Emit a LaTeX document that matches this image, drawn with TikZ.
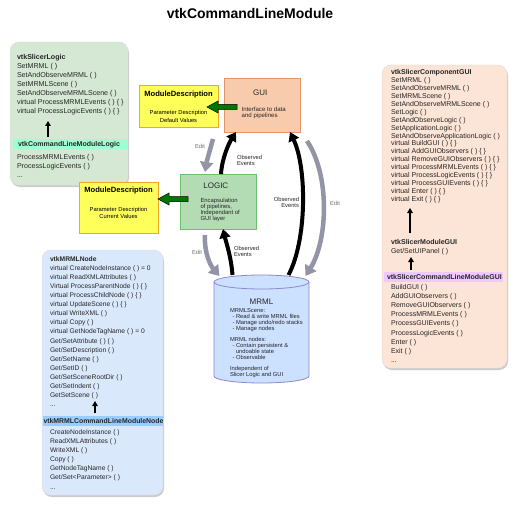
\documentclass[tikz,border=0pt]{standalone}
\usepackage{fontspec}
\setmainfont{Liberation Sans}
\usetikzlibrary{arrows.meta,shadows}
\newcommand\myfs[2]{\fontsize{#1}{#2}\selectfont}
\definecolor{greenbox}{HTML}{D5E8D4}
\definecolor{cyanband}{HTML}{A0FFD2}
\definecolor{bluebox}{HTML}{DAE8FC}
\definecolor{blueband}{HTML}{99CCFF}
\definecolor{pinkbox}{HTML}{FCE4D6}
\definecolor{pinkband}{HTML}{EEC8FF}
\definecolor{guifill}{HTML}{F8CBAD}
\definecolor{guiborder}{HTML}{E0956A}
\definecolor{logicfill}{HTML}{B4DCB4}
\definecolor{logicborder}{HTML}{6CBF6C}
\definecolor{mdfill}{HTML}{FFFF5A}
\definecolor{mdborder}{HTML}{F0A828}
\definecolor{mrmlfill}{HTML}{CCE0FF}
\definecolor{mrmlborder}{HTML}{9088CC}
\definecolor{editgray}{HTML}{9494A8}
\definecolor{garrowfill}{HTML}{007800}
\begin{document}
\begin{tikzpicture}[x=1pt,y=-1pt,
  every node/.style={inner sep=0pt,outer sep=0pt},
  listbox/.style={draw=black!12, rounded corners=9pt,
    drop shadow={shadow xshift=1pt,shadow yshift=-2pt,opacity=0.4}},
  ln/.style={anchor=base west, text=black!85},
  inh/.style={line width=1.3pt, -{Triangle[length=5pt,width=5.5pt]}},
  obs/.style={line width=4pt, -{Triangle[length=9pt,width=11pt]}},
  editarrow/.style={line width=4.5pt, draw=editgray, -{Triangle[length=10pt,width=13pt]}},
  lbl/.style={font=\myfs{5.8}{6.1}, text=black!85},
  editlbl/.style={font=\myfs{5.8}{6.1}, text=black!55},
  mdbox/.style={draw=mdborder, fill=mdfill, line width=0.8pt, minimum width=79pt},
  garrow/.style={draw=black, line width=0.5pt, fill=garrowfill},
]
\fill[white] (0,0) rectangle (518,505);
\useasboundingbox (0,0) rectangle (518,505);

% title
\node[font=\bfseries\myfs{14}{14}, anchor=base] (title) at (250,19) {vtkCommandLineModule};

% ---------- vtkSlicerLogic box ----------
\node[listbox, fill=greenbox, minimum width=118pt, minimum height=143pt] (slogic) at (69,113.5) {};
\node[ln, font=\bfseries\myfs{7.1}{9}] (slogict) at (17,59.5) {vtkSlicerLogic};
\foreach \t [count=\i] in {SetMRML ( ), SetAndObserveMRML ( ), SetMRMLScene ( ), SetAndObserveMRMLScene ( ), {virtual ProcessMRMLEvents ( ) \{ \}}, {virtual ProcessLogicEvents ( ) \{ \}}}
  \node[ln, font=\myfs{7.1}{9}] (sl\i) at (17,{59.5+9*\i}) {\t};
\node[fill=cyanband, minimum width=115pt, minimum height=10pt] (band1) at (70.5,144) {};
\node[ln, font=\bfseries\myfs{7}{7}] (band1t) at (18,146.5) {vtkCommandLineModuleLogic};
\coordinate (g1) at (48,121);
\draw[inh] ([xshift=-22.5pt,yshift=2pt]band1.north) -- (g1);
\foreach \t [count=\i] in {ProcessMRMLEvents ( ), ProcessLogicEvents ( )}
  \node[ln, font=\myfs{7.1}{9}] (slb\i) at (17,{150.5+9*\i}) {\t};
\node[ln, font=\myfs{7.1}{9}] (sldots) at (17,177.5) {...};

% ---------- vtkMRMLNode box ----------
\node[listbox, fill=bluebox, minimum width=121pt, minimum height=245pt] (mnode) at (102.5,372.5) {};
\node[ln, font=\bfseries\myfs{6.7}{9}] (mnodet) at (50,261.4) {vtkMRMLNode};
\foreach \t [count=\i] in {virtual CreateNodeInstance ( ) = 0, virtual ReadXMLAttributes ( ), {Virtual ProcessParentNode ( ) \{ \}}, {virtual ProcessChildNode ( ) \{ \}}, {virtual UpdateScene ( ) \{ \}}, virtual WriteXML ( ), virtual Copy ( ), virtual GetNodeTagName ( ) = 0, Get/SetAttribute ( ) ( ), Get/SetDescription ( ), Get/SetName ( ), Get/SetID ( ), Get/SetSceneRootDir ( ), Get/SetIndent ( ), GetSetScene ( )}
  \node[ln, font=\myfs{6.7}{9}] (mn\i) at (50,{261.4+9.07*\i}) {\t};
\node[ln, font=\myfs{6.7}{9}] (mndots) at (50,406.5) {...};
\node[fill=blueband, minimum width=120pt, minimum height=10pt] (band2) at (103,421) {};
\node[ln, font=\bfseries\myfs{6.9}{7}] (band2t) at (43.5,423.5) {vtkMRMLCommandLineModuleNode};
\coordinate (b1) at (95,401);
\draw[inh] ([xshift=-8pt,yshift=3pt]band2.north) -- (b1);
\foreach \t [count=\i] in {CreateNodeInstance ( ), ReadXMLAttributes ( ), WriteXML ( ), Copy ( ), GetNodeTagName ( ), Get/Set<Parameter> ( )}
  \node[ln, font=\myfs{6.7}{9}] (mnb\i) at (50,{425.4+9*\i}) {\t};
\node[ln, font=\myfs{6.7}{9}] (mnbdots) at (50,489.4) {...};

% ---------- vtkSlicerComponentGUI box ----------
\node[listbox, fill=pinkbox, minimum width=125pt, minimum height=303pt] (cgui) at (444.5,216.5) {};
\node[ln, font=\bfseries\myfs{7}{8}] (cguit) at (391,74.5) {vtkSlicerComponentGUI};
\foreach \t [count=\i] in {SetMRML ( ), SetAndObserveMRML ( ), SetMRMLScene ( ), SetAndObserveMRMLScene ( ), SetLogic ( ), SetAndObserveLogic ( ), SetApplicationLogic ( ), SetAndObserveApplicationLogic ( ), {virtual BuildGUI ( ) \{ \}}, {virtual AddGUIObservers ( ) \{ \}}, {virtual RemoveGUIObservers ( ) \{ \}}, {virtual ProcessMRMLEvents ( ) \{ \}}, {virtual ProcessLogicEvents ( ) \{ \}}, {virtual ProcessGUIEvents ( ) \{ \}}, {virtual Enter ( ) \{ \}}, {virtual Exit ( ) \{ \}}}
  \node[ln, font=\myfs{7}{8}] (cg\i) at (391,{74.5+7.94*\i}) {\t};
\coordinate (p1s) at (410,233);
\coordinate (p1e) at (410,208);
\draw[inh] (p1s) -- (p1e);
\node[ln, font=\bfseries\myfs{7}{9}] (smgui) at (391,244.5) {vtkSlicerModuleGUI};
\node[ln, font=\myfs{7}{9}] (smgui1) at (391,253.5) {Get/SetUIPanel ( )};
\node[fill=pinkband, minimum width=119pt, minimum height=10pt] (band3) at (443.5,277) {};
\node[ln, font=\bfseries\myfs{7}{7}] (band3t) at (387,279.5) {vtkSlicerCommandLineModuleGUI};
\coordinate (p2e) at (411,257);
\draw[inh] ([xshift=-32.5pt,yshift=2pt]band3.north) -- (p2e);
\foreach \t [count=\i] in {BuildGUI ( ), AddGUIObservers ( ), RemoveGUIObservers ( ), ProcessMRMLEvents ( ), ProcessGUIEvents ( ), ProcessLogicEvents ( ), Enter ( ), Exit ( )}
  \node[ln, font=\myfs{7}{9}] (cgb\i) at (391,{280.4+9.1*\i}) {\t};
\node[ln, font=\myfs{7}{9}] (cgbdots) at (391,362.5) {...};

% ---------- GUI / LOGIC ----------
\node[draw=guiborder, fill=guifill, line width=0.8pt, minimum width=76pt, minimum height=54pt] (gui) at (262,105) {};
\node[font=\myfs{8}{8}, anchor=base, text=black!85] (guit) at (260.3,95.6) {GUI};
\node[font=\myfs{6.1}{6.5}, anchor=north west, align=left, text=black!85] (guid) at (241.7,106.8) {Interface to data\\and pipelines};

\node[draw=logicborder, fill=logicfill, line width=0.8pt, minimum width=76pt, minimum height=55pt] (logic) at (218,201.5) {};
\node[font=\myfs{8}{8}, anchor=base, text=black!85] (logict) at (215.8,188.6) {LOGIC};
\node[font=\myfs{5.9}{6}, anchor=north west, align=left, text=black!85] (logicd) at (200.5,197.8) {Encapsulation\\of pipelines,\\Independant of\\GUI layer};

% ---------- ModuleDescription boxes ----------
\node[mdbox, minimum height=42pt] (md1) at (178.5,106) {};
\node[font=\bfseries\myfs{7.6}{8}, anchor=base] (md1t) at (178.5,96.8) {ModuleDescription};
\node[font=\myfs{5.8}{8}, anchor=north, align=center] (md1d) at (178.5,109.8) {Parameter Description\\Default Values};

\node[mdbox, minimum height=51pt] (md2) at (118.5,207.5) {};
\node[font=\bfseries\myfs{7.6}{8}, anchor=base] (md2t) at (118.5,192.8) {ModuleDescription};
\node[font=\myfs{5.8}{7}, anchor=north, align=center] (md2d) at (118.5,206.8) {Parameter Description\\Current Values};

% green arrows
\draw[garrow] (237,104.5) -- (218,104.5) -- (218,101) -- (207,107) -- (218,113) -- (218,109.5) -- (237,109.5) -- cycle;
\draw[garrow] (188,196.5) -- (169,196.5) -- (169,193) -- (158,199) -- (169,205) -- (169,201.5) -- (188,201.5) -- cycle;

% ---------- MRML cylinder ----------
\fill[mrmlfill] (214,282) -- (214,376) arc[start angle=180,end angle=0,x radius=47.5,y radius=7] -- (309,282) -- cycle;
\draw[mrmlborder, line width=0.8pt] (214,282) -- (214,376) arc[start angle=180,end angle=0,x radius=47.5,y radius=7] -- (309,282);
\draw[mrmlborder, fill=mrmlfill, line width=0.8pt] (261.5,282) ellipse[x radius=47.5, y radius=7];
\coordinate (mrmltop) at (261.5,275);
\node[font=\myfs{8}{8}, anchor=base, text=black!85] (mrml) at (261.5,304) {MRML};
\node[lbl, anchor=base west] (m1) at (230,312.1) {MRMLScene:};
\node[lbl, anchor=base west] (m2) at (232.5,318.1) {- Read \& write MRML files};
\node[lbl, anchor=base west] (m3) at (232.5,324.1) {- Manage undo/redo stacks};
\node[lbl, anchor=base west] (m4) at (232.5,330.1) {- Manage nodes};
\node[lbl, anchor=base west] (m5) at (230,341.1) {MRML nodes:};
\node[lbl, anchor=base west] (m6) at (232.5,347.1) {- Contain persistent \&};
\node[lbl, anchor=base west] (m7) at (236,353.1) {undoable state};
\node[lbl, anchor=base west] (m8) at (232.5,359.1) {- Observable};
\node[lbl, anchor=base west] (m9) at (230,370.1) {Independent of};
\node[lbl, anchor=base west] (m10) at (230,376.1) {Slicer Logic and GUI};

% ---------- Observed Events (black) ----------
\draw[obs] ([xshift=3pt]logic.north) .. controls (222,158) and (229,143) .. ([xshift=-26pt]gui.south);
\draw[obs] ([xshift=-29pt]mrmltop) .. controls (231,256) and (226,242) .. ([xshift=5pt]logic.south);
\draw[obs] ([xshift=27pt]mrmltop) .. controls (307,240) and (307,168) .. ([xshift=28pt]gui.south);
\node[lbl, anchor=north west, align=left] (oe1) at (237,154.8) {Observed\\Events};
\node[lbl, anchor=north west, align=left] (oe2) at (234,245.8) {Observed\\Events};
\node[lbl, anchor=north east, align=right] (oe3) at (299,196.8) {Observed\\Events};

% ---------- Edit (gray) ----------
\draw[editarrow] ([xshift=-49pt,yshift=-7pt]gui.south) .. controls (210,150) and (207,160) .. ([xshift=-13pt,yshift=2pt]logic.north);
\draw[editarrow] ([xshift=-13pt,yshift=-6pt]logic.south) .. controls (204,252) and (210,265) .. ([xshift=-42pt,yshift=-1pt]mrmltop);
\draw[editarrow] ([xshift=45pt,yshift=-9pt]gui.south) .. controls (330,175) and (328,240) .. ([xshift=44pt,yshift=-1pt]mrmltop);
\node[editlbl, anchor=base] (e1) at (200,148) {Edit};
\node[editlbl, anchor=base] (e2) at (197,254) {Edit};
\node[editlbl, anchor=base] (e3) at (335,205) {Edit};
\end{tikzpicture}
\end{document}
